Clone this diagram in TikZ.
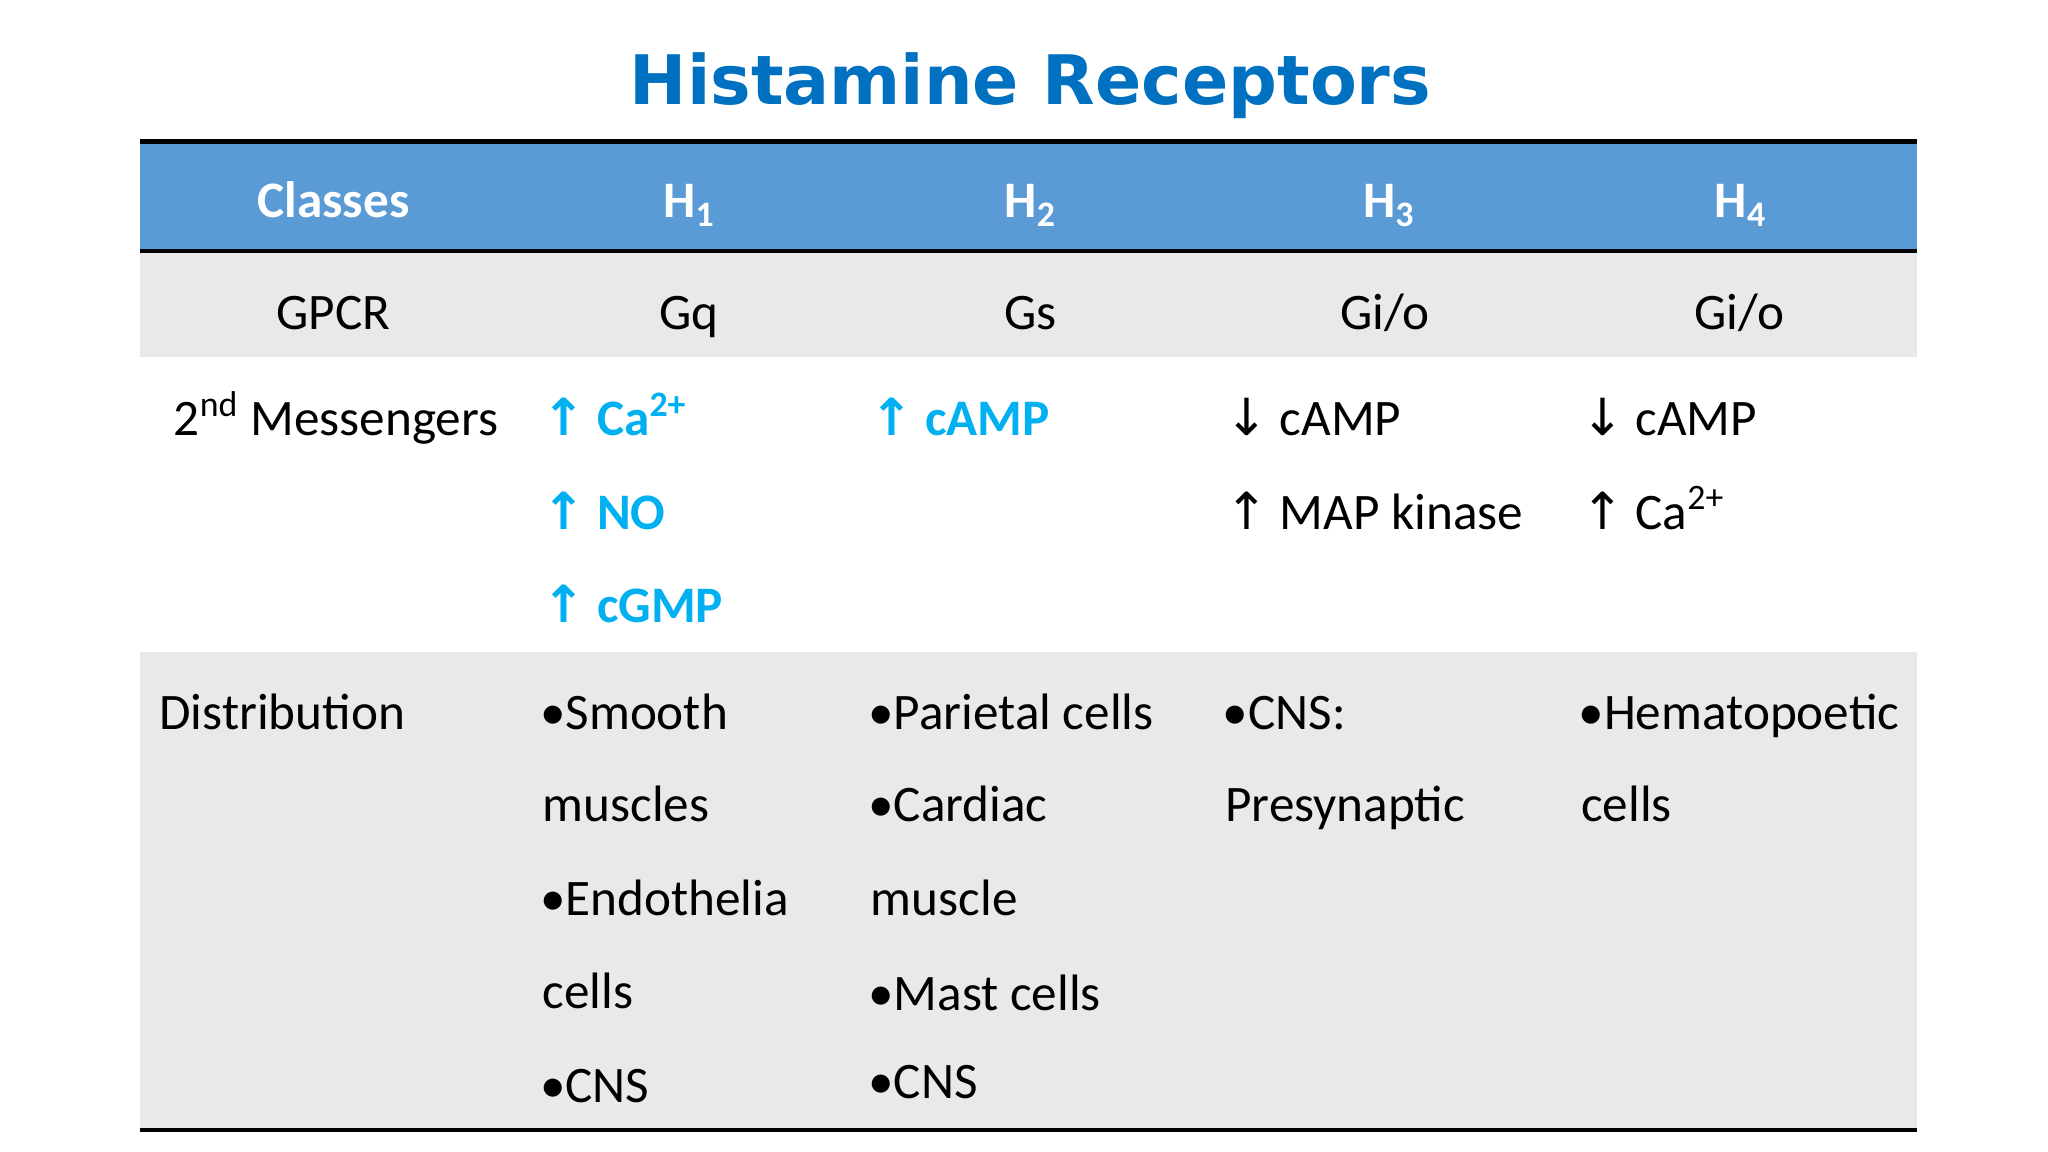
\documentclass[tikz,border=0pt]{standalone}
\usepackage{fontspec}
\setmainfont{Carlito}
\newfontfamily\dv{DejaVu Sans}
\definecolor{titleblue}{RGB}{0,112,192}
\definecolor{hdrblue}{RGB}{91,155,213}
\definecolor{rowgray}{RGB}{233,233,236}
\definecolor{cyanb}{RGB}{0,176,240}
\begin{document}
\begin{tikzpicture}[x=0.5pt,y=-0.5pt,
  txt/.style={inner sep=0pt,anchor=base west,font=\fontsize{19.5}{22}\selectfont},
  ctxt/.style={inner sep=0pt,anchor=base,font=\fontsize{19.5}{22}\selectfont},
  hdr/.style={ctxt,text=white,font=\fontsize{19.5}{22}\selectfont\bfseries},
  cy/.style={txt,text=cyanb,font=\fontsize{19.5}{22}\selectfont\bfseries}]
\useasboundingbox (0,0) rectangle (1560,877);
\fill[white] (0,0) rectangle (1560,877);
\fill[hdrblue] (107,108) rectangle (1460,191);
\fill[rowgray] (107,191) rectangle (1460,272);
\fill[rowgray] (107,497) rectangle (1460,861);
\draw[line width=2pt] (107,108) -- (1460,108);
\draw[line width=1.5pt] (107,191) -- (1460,191);
\draw[line width=1.5pt] (107,861) -- (1460,861);
\node[inner sep=0pt,text=titleblue,font=\dv\fontsize{26}{30}\selectfont\bfseries] (title) at (785,65) {Histamine Receptors};
\node[hdr] (hc) at (254,166) {Classes};
\node[hdr] (h1) at (525,166) {H\textsubscript{1}};
\node[hdr] (h2) at (785,166) {H\textsubscript{2}};
\node[hdr] (h3) at (1058,166) {H\textsubscript{3}};
\node[hdr] (h4) at (1326,166) {H\textsubscript{4}};
\node[ctxt] (g0) at (254,251) {GPCR};
\node[ctxt] (g1) at (525,251) {Gq};
\node[ctxt] (g2) at (785,251) {Gs};
\node[ctxt] (g3) at (1055,251) {Gi/o};
\node[ctxt] (g4) at (1325,251) {Gi/o};
\node[txt] (m0) at (132,332) {2\textsuperscript{nd} Messengers};
\node[cy] (m1a) at (413,332) {{\dv\bfseries↑} Ca\textsuperscript{2+}};
\node[cy] (m1b) at (413,403) {{\dv\bfseries↑} NO};
\node[cy] (m1c) at (413,474) {{\dv\bfseries↑} cGMP};
\node[cy] (m2a) at (663,332) {{\dv\bfseries↑} cAMP};
\node[txt] (m3a) at (933,332) {{\dv↓} cAMP};
\node[txt] (m3b) at (933,403) {{\dv↑} MAP kinase};
\node[txt] (m4a) at (1204,332) {{\dv↓} cAMP};
\node[txt] (m4b) at (1204,403) {{\dv↑} Ca\textsuperscript{2+}};
\node[txt] (d0) at (121,556) {Distribution};
\node[txt] (d1a) at (411,556) {•Smooth};
\node[txt] (d1b) at (413,626) {muscles};
\node[txt] (d1c) at (411,697) {•Endothelia};
\node[txt] (d1d) at (413,768) {cells};
\node[txt] (d1e) at (411,840) {•CNS};
\node[txt] (d2a) at (661,556) {•Parietal cells};
\node[txt] (d2b) at (661,626) {•Cardiac};
\node[txt] (d2c) at (663,697) {muscle};
\node[txt] (d2d) at (661,770) {•Mast cells};
\node[txt] (d2e) at (661,837) {•CNS};
\node[txt] (d3a) at (931,556) {•CNS:};
\node[txt] (d3b) at (933,626) {Presynaptic};
\node[txt] (d4a) at (1202,556) {•Hematopoetic};
\node[txt] (d4b) at (1204,626) {cells};
\end{tikzpicture}
\end{document}
